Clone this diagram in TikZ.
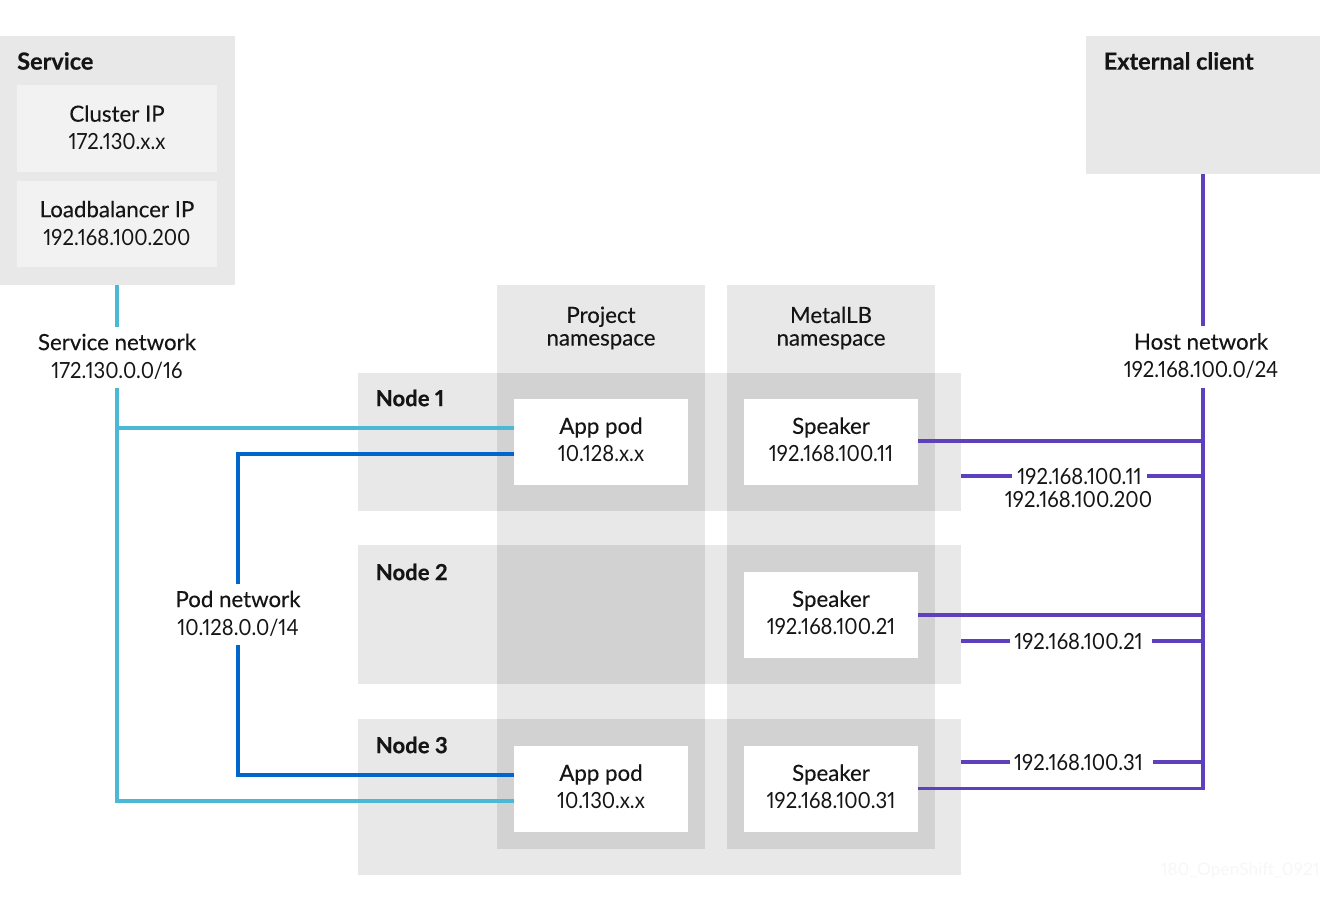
\documentclass[tikz,border=0pt]{standalone}
\usepackage{fontspec}
\setmainfont{Lato}[Numbers=Proportional,BoldFeatures={FakeBold=0.5}]
\newfontfamily\medfont[FakeBold=0.25,Numbers=Proportional]{Lato}
\newfontfamily\numfont[FakeStretch=0.91,Numbers=Proportional]{Lato}
\definecolor{panel}{HTML}{E8E8E8}
\definecolor{overlap}{HTML}{D2D2D2}
\definecolor{soft}{HTML}{F2F2F2}
\definecolor{inkc}{HTML}{151515}
\definecolor{cyanline}{HTML}{4BB8D6}
\definecolor{blueline}{HTML}{0066CC}
\definecolor{purpleline}{HTML}{5E40BE}
\definecolor{mark}{HTML}{F7F7F7}
\newcommand{\twolines}[2]{{\medfont #1}\\[3pt]{\numfont #2}}
\tikzset{
  x=0.75pt,y=-0.75pt,
  every node/.style={text=inkc,font=\fontsize{16.7}{18}\selectfont},
  area/.style={fill=panel,draw=none},
  dark/.style={fill=overlap,draw=none},
  softbox/.style={fill=soft,draw=none,inner sep=0pt,minimum width=150pt,align=center,text depth=1.5pt},
  podbox/.style={fill=white,draw=none,inner sep=0pt,minimum width=130.5pt,minimum height=64.5pt,align=center,text depth=3.5pt},
  title/.style={anchor=west,inner sep=0pt,font=\fontsize{17.6}{18}\selectfont\bfseries},
  nodetitle/.style={title,font=\fontsize{16.6}{18}\selectfont\bfseries},
  netlabel/.style={inner sep=0pt,minimum height=45.75pt,align=center,text depth=2.4pt},
  nslabel/.style={inner sep=0pt,align=center,font=\fontsize{16.7}{17}\selectfont\medfont},
  iplabel/.style={inner sep=0pt,align=center,font=\fontsize{16.7}{18}\selectfont\numfont},
  cyanw/.style={draw=cyanline,line width=2.4pt},
  bluew/.style={draw=blueline,line width=2.4pt},
  purplew/.style={draw=purpleline,line width=2.4pt},
}
\begin{document}
\begin{tikzpicture}
\useasboundingbox (0,0) rectangle (1320,905);
% panels
\fill[white] (0,0) rectangle (1320,905);
\fill[area] (0,36) rectangle (235,285);
\fill[area] (1086,36) rectangle (1320,174);
\fill[area] (497,285) rectangle (705,849);
\fill[area] (727,285) rectangle (935,849);
\fill[area] (358,373) rectangle (961,511);
\fill[area] (358,545) rectangle (961,684);
\fill[area] (358,719) rectangle (961,875);
\foreach \ya/\yb in {373/511,545/684,719/849}{
  \fill[dark] (497,\ya) rectangle (705,\yb);
  \fill[dark] (727,\ya) rectangle (935,\yb);
}
% titles
\node[title] (svctitle) at (17,61) {Service};
\node[title] (exttitle) at (1103.5,61) {External client};
\node[nodetitle] (n1title) at (375.5,398) {Node 1};
\node[nodetitle] (n2title) at (375.5,572) {Node 2};
\node[nodetitle] (n3title) at (375.5,745) {Node 3};
\node[nslabel] (nsproj) at (601,328) {Project\\namespace};
\node[nslabel] (nsmetal) at (831,328) {MetalLB\\namespace};
% service boxes
\node[softbox,minimum height=65.25pt] (clusterip) at (117,128.5) {\twolines{Cluster IP}{172.130.x.x}};
\node[softbox,minimum height=64.5pt] (lbip) at (117,224) {\twolines{Loadbalancer IP}{192.168.100.200}};
\node[inner sep=0pt,minimum width=176.25pt,minimum height=186.75pt] (service) at (117.5,160.5) {};
\node[inner sep=0pt,minimum width=175.5pt,minimum height=103.5pt] (external) at (1203,105) {};
% pods
\node[podbox] (pod1) at (601,442) {\twolines{App pod}{10.128.x.x}};
\node[podbox] (pod3) at (601,789) {\twolines{App pod}{10.130.x.x}};
\node[podbox] (sp1) at (831,442) {\twolines{Speaker}{192.168.100.11}};
\node[podbox] (sp2) at (831,615) {\twolines{Speaker}{192.168.100.21}};
\node[podbox] (sp3) at (831,789) {\twolines{Speaker}{192.168.100.31}};
% network labels
\node[netlabel] (svcnet) at (117,357.5) {\twolines{Service network}{172.130.0.0/16}};
\node[netlabel] (podnet) at (238,614.5) {\twolines{Pod network}{10.128.0.0/14}};
\node[netlabel] (hostnet) at (1201,357) {\twolines{Host network}{192.168.100.0/24}};
% ip labels
\node[iplabel,minimum width=101.25pt] (ip1) at (1079.5,476.5) {192.168.100.11};
\node[iplabel] (ip1b) at (1078.5,499.5) {192.168.100.200};
\node[iplabel,minimum width=106.5pt] (ip2) at (1081,642) {192.168.100.21\hspace{3.75pt}};
\node[iplabel,minimum width=106.5pt] (ip3) at (1081.5,762.5) {192.168.100.31\hspace{4.5pt}};
\node[anchor=east,inner sep=0pt,text=mark,font=\fontsize{13}{15}\selectfont] (wm) at (1320,871) {180\_OpenShift\_0921};
% connector helpers
\coordinate (svcbase) at (117,285);
\coordinate (c1) at (514,428);
\coordinate (c3) at (514,801);
\coordinate (b1) at (514,454);
\coordinate (b3) at (514,775);
\coordinate (busTop) at (1203,174);
\coordinate (hostIn) at (1203,326);
\coordinate (hostOut) at (1203,388);
\coordinate (s1) at (918,441);
\coordinate (s2) at (918,615);
\coordinate (s3) at (918,788.5);
\coordinate (j1) at (1203,476);
\coordinate (j2) at (1203,641);
\coordinate (j3) at (1203,762);
\coordinate (e1) at (961,476);
\coordinate (e2) at (961,641);
\coordinate (e3) at (961,762);
% service network
\draw[cyanw] (svcbase) -- (svcnet.north);
\draw[cyanw] (svcnet.south) |- (c3);
\draw[cyanw] (svcnet.south |- c1) -- (c1);
% pod network
\draw[bluew] (b1) -| (podnet.north);
\draw[bluew] (podnet.south) |- (b3);
% host network
\draw[purplew] (busTop) -- (hostIn);
\draw[purplew] (hostOut) |- (s3);
\draw[purplew] (s1) -- (s1 -| hostOut);
\draw[purplew] (s2) -- (s2 -| hostOut);
\draw[purplew] (e1) -- (e1 -| ip1.west);
\draw[purplew] (e1 -| ip1.east) -- (j1);
\draw[purplew] (e2) -- (e2 -| ip2.west);
\draw[purplew] (e2 -| ip2.east) -- (j2);
\draw[purplew] (e3) -- (e3 -| ip3.west);
\draw[purplew] (e3 -| ip3.east) -- (j3);
\end{tikzpicture}
\end{document}
